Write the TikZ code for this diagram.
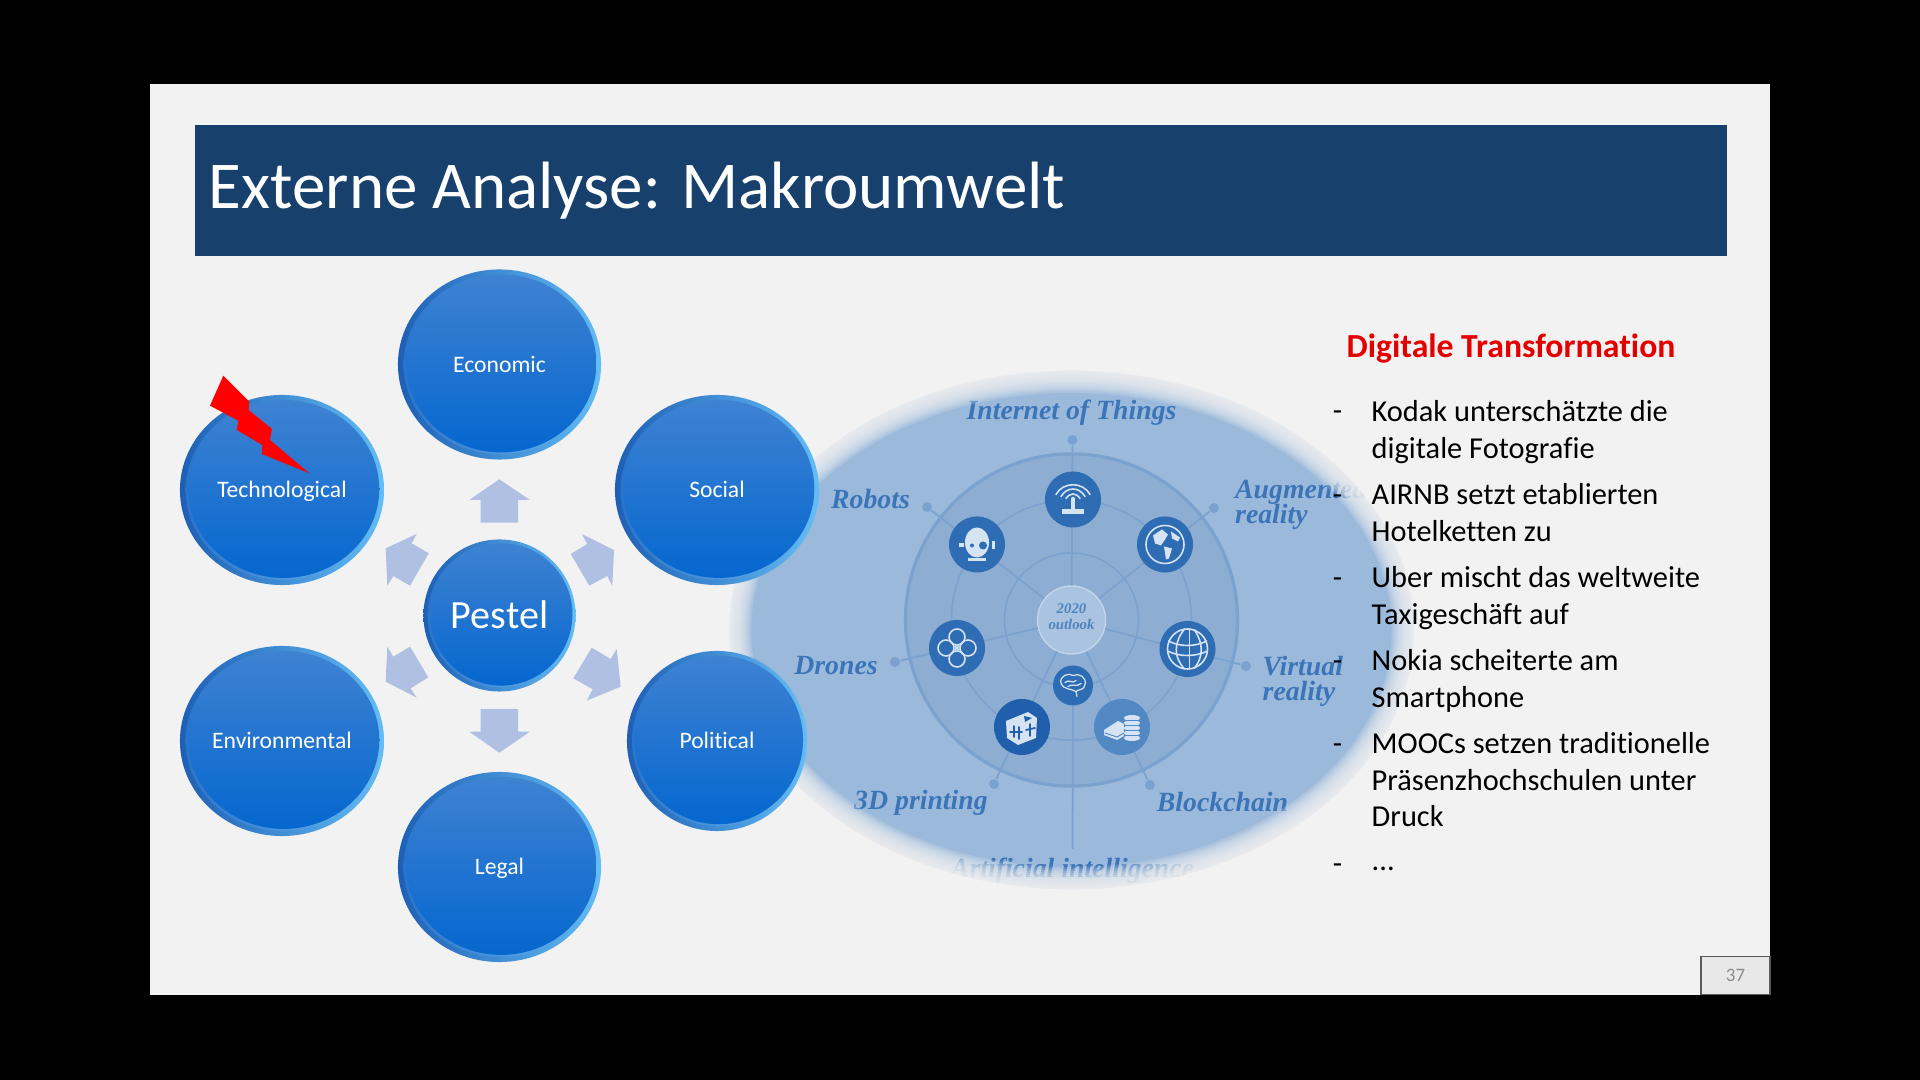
\documentclass[tikz,border=0pt]{standalone}
\usepackage{fontspec}
\setmainfont[Ligatures=NoCommon]{Carlito}
\newfontfamily\labelfont{Liberation Serif}
\usetikzlibrary{positioning,
                shapes.geometric}
\definecolor{slidebg}{HTML}{F2F2F2}
\definecolor{headerblue}{HTML}{17406D}
\definecolor{softblue}{HTML}{9BB9DB}
\definecolor{diskblue}{HTML}{8DADD3}
\definecolor{lineblue}{HTML}{7BA2CE}
\definecolor{iconblue}{HTML}{2E6DB4}
\definecolor{icondark}{HTML}{1F5FAB}
\definecolor{iconpale}{HTML}{5288C4}
\definecolor{icontint}{HTML}{D5E3F2}
\definecolor{labelblue}{HTML}{3B75B8}
\definecolor{arrowblue}{HTML}{B0C0E2}
\definecolor{rimdark}{HTML}{1D5FB5}
\definecolor{rimlight}{HTML}{64BDF4}
\definecolor{glowlight}{HTML}{6DB8F2}
\definecolor{glowdark}{HTML}{2A74CC}
\definecolor{balltop}{HTML}{3F82D2}
\definecolor{ballmid}{HTML}{1470D2}
\definecolor{ballend}{HTML}{0567CF}

\begin{document}
\begin{tikzpicture}[
x=0.01cm, y=-0.01cm,
     ball/.style 2 args = {ellipse, minimum width=#1cm, minimum height=#2cm,
                    inner sep=0pt, text=white, font=\fontsize{6.72}{8}\selectfont,
                    text height=5pt, text depth=.6pt,
                    path picture={
                      \shade[left color=rimdark, middle color=rimdark, right color=rimlight]
                        (path picture bounding box.south west) rectangle (path picture bounding box.north east);
                      \shade[shading angle=45, left color=glowdark, right color=glowlight]
                        (path picture bounding box.center) ellipse [x radius=.472*#1cm, y radius=.472*#2cm];
                      \shade[top color=balltop, middle color=ballmid, bottom color=ballend]
                        ([xshift=.5pt,yshift=.3pt]path picture bounding box.center) ellipse [x radius=.468*#1cm, y radius=.468*#2cm];
                    }},
blockarrow/.style = {fill=arrowblue},
     ring/.style = {circle, draw=lineblue, inner sep=0pt},
    spoke/.style = {draw=lineblue, line width=.5pt},
 spokedot/.style = {circle, fill=lineblue, minimum size=.1cm, inner sep=0pt},
     icon/.style = {circle, fill=iconblue, minimum size=.56cm, inner sep=0pt},
 iconline/.style = {draw=icontint, line width=.45pt, line cap=round},
looplabel/.style = {text=labelblue, inner sep=0pt,
                    font=\labelfont\bfseries\itshape\fontsize{7.9}{7.3}\selectfont},
   bullet/.style = {anchor=north west, align=left, inner sep=0pt, text=black,
                    font=\fontsize{8.64}{10.36}\selectfont},
 dashitem/.style = {inner sep=0pt, text=black, font=\fontsize{8.64}{10.36}\selectfont}
                    ]
\useasboundingbox (0,0) rectangle (1920,1080);
\fill[black] (0,0) rectangle (1920,1080);
\fill[slidebg] (150,84) rectangle (1770,995);
 % header
\node (header) [fill=headerblue, minimum width=15.32cm, minimum height=1.31cm, inner sep=0pt] at (961,190.5) {};
\node (title) [text=white, anchor=west, inner sep=0pt, font=\fontsize{19.04}{24}\selectfont] at (208,191) {Externe Analyse: Makroumwelt};
 % soft disk behind the wheel
\fill[softblue] (1071.5,630) ellipse [x radius=3.42cm, y radius=2.59cm];
\node (disk) [ring, fill=diskblue, line width=.9pt, minimum size=3.32cm] at (1071.5,620) {};
\node (midring) [ring, line width=.45pt, minimum size=2.4cm] at (disk) {};
\node (inring)  [ring, line width=.45pt, minimum size=1.34cm] at (disk) {};
\node (hub) [circle, fill=softblue!85!white, draw=softblue!60!white, line width=.4pt,
             minimum size=.68cm, inner sep=0pt, text=iconblue!85!white, align=center,
             font=\labelfont\bfseries\itshape\fontsize{4.2}{4.6}\selectfont] at (disk) {2020\\outlook\\[-2.9pt]\mbox{}};
 % spokes
\foreach \d/\x/\y in {iotdot/1072.5/440, ardot/1214/508, vrdot/1246/666, chaindot/1150/785,
                      printdot/994/784, dronedot/895/662, robotdot/927/507}{
  \node (\d) [spokedot] at (\x,\y) {};
  \draw[spoke] (hub) -- (\d);
}
\node (brain) [icon, minimum size=.4cm] at (1073,685.5) {};
\coordinate (aiend) at (1072.5,849);
\draw[spoke] (brain) -- (aiend);
 % icons
\node (iot)   [icon] at (1073,499.5) {};
\node (globe) [icon] at (1165,544.5) {};
\node (vr)    [icon] at (1187.5,649) {};
\node (chain) [icon, fill=iconpale] at (1122,727) {};
\node (print) [icon, fill=icondark] at (1022,727) {};
\node (drone) [icon] at (957,648) {};
\node (robot) [icon] at (977,544.5) {};

\begin{scope}[shift={(iot.center)}, iconline]
  \draw (-17,-5) .. controls (-10,-18) and (10,-18) .. (17,-5);
  \draw (-12,-3) .. controls (-6,-13) and (6,-13) .. (12,-3);
  \draw (-7,-1) .. controls (-3,-7) and (3,-7) .. (7,-1);
  \draw[line width=.9pt] (0,-1) -- (0,9);
  \fill[icontint] (-11,10) rectangle (11,15);
\end{scope}
\begin{scope}[shift={(globe.center)}, iconline]
  \draw (0,0) circle [radius=.19cm];
  \fill[icontint] (-12,-9) -- (-3,-15) -- (3,-10) -- (0,-5) -- (-4,1) -- (-10,-1) -- cycle;
  \fill[icontint] (-1,2) -- (7,4) -- (4,14) -- (1,15) -- cycle;
  \fill[icontint] (6,-13) -- (15,-7) -- (13,-3) -- (7,-6) -- cycle;
\end{scope}
\begin{scope}[shift={(vr.center)}, iconline]
  \draw (0,0) circle [radius=.2cm];
  \draw (-3,-20) .. controls (-14,-6) and (-14,8) .. (-3,20);
  \draw (7,-19) .. controls (16,-6) and (16,8) .. (7,19);
  \draw (2,-20) -- (2,20);
  \draw (-19,-8) .. controls (-8,-2) and (8,-2) .. (19,-8);
  \draw (-20,2) .. controls (-8,8) and (8,8) .. (20,2);
\end{scope}
\begin{scope}[shift={(chain.center)}, iconline]
  \fill[icontint] (-18,3) -- (-4,-6) -- (2,-3) -- (2,9) -- (-5,13) -- (-18,8) -- cycle;
  \foreach \cy in {-9,-4,1,6,11}
    \fill[icontint] (10,\cy) ellipse [x radius=.08cm, y radius=.03cm];
  \foreach \cy in {-7,-2,3,8}
    \draw[iconpale, line width=.25pt] (2,\cy) -- (18,\cy);
  \draw[iconpale, line width=.25pt] (-17,6) -- (-5,10) -- (2,6);
\end{scope}
\begin{scope}[shift={(print.center)}, iconline]
  \fill[icontint] (-16,-6) -- (6,-15) -- (15,-9) -- (14,11) -- (-4,18) -- (-15,11) -- cycle;
  \draw[icondark, line width=.5pt] (-8,-1) -- (-8,10) (-3,0) -- (-3,12) (-12,5) -- (0,5) (4,3) -- (13,1) (8,-3) -- (8,9);
  \fill[icondark] (2,-11) -- (10,-9) -- (3,-5) -- cycle;
\end{scope}
\begin{scope}[shift={(drone.center)}, iconline]
  \foreach \ox/\oy in {0/-11,0/11,-11/0,11/0}
    \draw (\ox,\oy) circle [radius=.08cm];
  \draw (-2,-2) -- (2,2) (-2,2) -- (2,-2);
\end{scope}
\begin{scope}[shift={(robot.center)}, iconline]
  \fill[icontint] (0,-2) ellipse [x radius=.12cm, y radius=.15cm];
  \fill[icontint] (-9,14) rectangle (9,17);
  \fill[icontint] (-18,-1) rectangle (-13,3);
  \fill[icontint] (15,-3) rectangle (18,5);
  \fill[iconblue] (-5,1) circle [radius=.02cm];
  \fill[iconblue] (6,1) circle [radius=.04cm];
\end{scope}
\begin{scope}[shift={(brain.center)}, iconline, line width=.35pt]
  \draw (-12,-2) .. controls (-14,-10) and (-4,-13) .. (0,-10) .. controls (6,-13) and (14,-8) .. (12,-1)
        .. controls (12,5) and (4,4) .. (3,6) -- (4,11) (3,6) .. controls (-2,3) and (-10,4) .. (-12,-2);
  \draw (-8,-3) .. controls (-4,-7) and (0,-1) .. (3,-5) (-5,1) .. controls (-2,-2) and (4,2) .. (8,-2);
\end{scope}
 % labels, cut by the disk
\begin{scope}
  \clip (1071.5,630) ellipse [x radius=3.42cm, y radius=2.59cm];
  \node (iotlabel)   [looplabel] at (1071.5,413) {Internet of Things};
  \node (robotlabel) [looplabel] at (870.5,499) {Robots};
  \node (arlabel)    [looplabel, anchor=west, align=left] at (1234.5,504.5) {Augmented\\reality};
  \node (dronelabel) [looplabel] at (836,666) {Drones};
  \node (vrlabel)    [looplabel, anchor=west, align=left] at (1262,681.5) {Virtual\\reality};
  \node (printlabel) [looplabel] at (921,803) {3D printing};
  \node (chainlabel) [looplabel] at (1222.5,802.5) {Blockchain};
  \node (ailabel)    [looplabel] at (1072.5,871) {Artificial intelligence};
\end{scope}
\foreach \i in {1,...,12}
  \fill[slidebg, opacity=.18, even odd rule]
    (1071.5,630) ellipse [x radius=3.44cm, y radius=2.61cm]
    (1071.5,630) ellipse [x radius=3.44cm-\i*.02cm, y radius=2.61cm-\i*.02cm];
 % arrows round the centre
\fill[blockarrow] (499.3,479.3) -- (530,500) -- (518,500) -- (518,522.7) -- (480.7,522.7) -- (480.7,500) -- (469.3,500) -- cycle;
\fill[blockarrow] (499.3,752.7) -- (530,731.7) -- (518,731.7) -- (518,709) -- (480.7,709) -- (480.7,731.7) -- (469.3,731.7) -- cycle;
\fill[blockarrow] (416.7,534) -- (385.7,548.3) -- (387.3,586) -- (393.3,576) -- (410,585.7) -- (428.7,553.3) -- (411.7,543.3) -- cycle;
\fill[blockarrow] (581.7,534) -- (614,550) -- (612.3,586) -- (607.3,576) -- (589.3,585.7) -- (570.7,554) -- (587.3,544) -- cycle;
\fill[blockarrow] (387.3,646.7) -- (393.3,656.7) -- (410,646.7) -- (428.3,677.3) -- (410.7,688.3) -- (416.7,697.7) -- (385.7,681.7) -- cycle;
\fill[blockarrow] (616.7,649) -- (620.7,686.7) -- (586.7,700.7) -- (592.7,689.3) -- (573.3,678.3) -- (591.7,647.7) -- (610.7,659) -- cycle;
 % balls
\node (economic) [ball={2.03}{1.90}] at (499.5,364.5) {Economic};
\node (techno)   [ball={2.04}{1.90}] at (282,490) {Technological};
\node (social)   [ball={2.04}{1.90}] at (717,490) {Social};
\node (environ)  [ball={2.04}{1.90}] at (282,741) {Environmental};
\node (politic)  [ball={1.80}{1.80}] at (717,741) {Political};
\node (legal)    [ball={2.03}{1.90}] at (499.5,867) {Legal};
\node (pestel)   [ball={1.52}{1.52}, font=\fontsize{11.4}{13}\selectfont, text height=8.2pt, text depth=.8pt] at (499.5,615.5) {Pestel};
 % flash
\fill[red] (223.3,375.7) -- (249.3,401.7) -- (248.7,410) -- (272,429) -- (270,440) -- (309.3,473.3)
        -- (261.7,454) -- (262.3,445) -- (236.7,430) -- (238.3,420.7) -- (210,405.7) -- cycle;
 % text on the right
\node (headline) [text=red!90!black, inner sep=0pt, font=\bfseries\fontsize{9.58}{11}\selectfont] at (1511,349) {Digitale Transformation};
\node (kodak)  [bullet] at (1371,400) {Kodak unterschätzte die\\digitale Fotografie};
\node (airnb)  [bullet] at (1371,483) {AIRNB setzt etablierten\\Hotelketten zu};
\node (uber)   [bullet] at (1371,566) {Uber mischt das weltweite\\Taxigeschäft auf};
\node (nokia)  [bullet] at (1371,649) {Nokia scheiterte am\\Smartphone};
\node (moocs)  [bullet] at (1371,732) {MOOCs setzen traditionelle\\Präsenzhochschulen unter\\Druck};
\node (more)   [bullet] at (1371,866) {...};
\foreach \d/\y in {d1/416, d2/500, d3/583, d4/666, d5/749, d6/869}
  \node (\d) [dashitem] at (1337.5,\y) {-};
 % page number
\node (pageno) [draw=black!65, fill=black!9, minimum width=.69cm, minimum height=.38cm, inner sep=0pt,
                text=black!45, font=\fontsize{5.4}{6}\selectfont] at (1735.5,975.5) {37};
\end{tikzpicture}
\end{document}
